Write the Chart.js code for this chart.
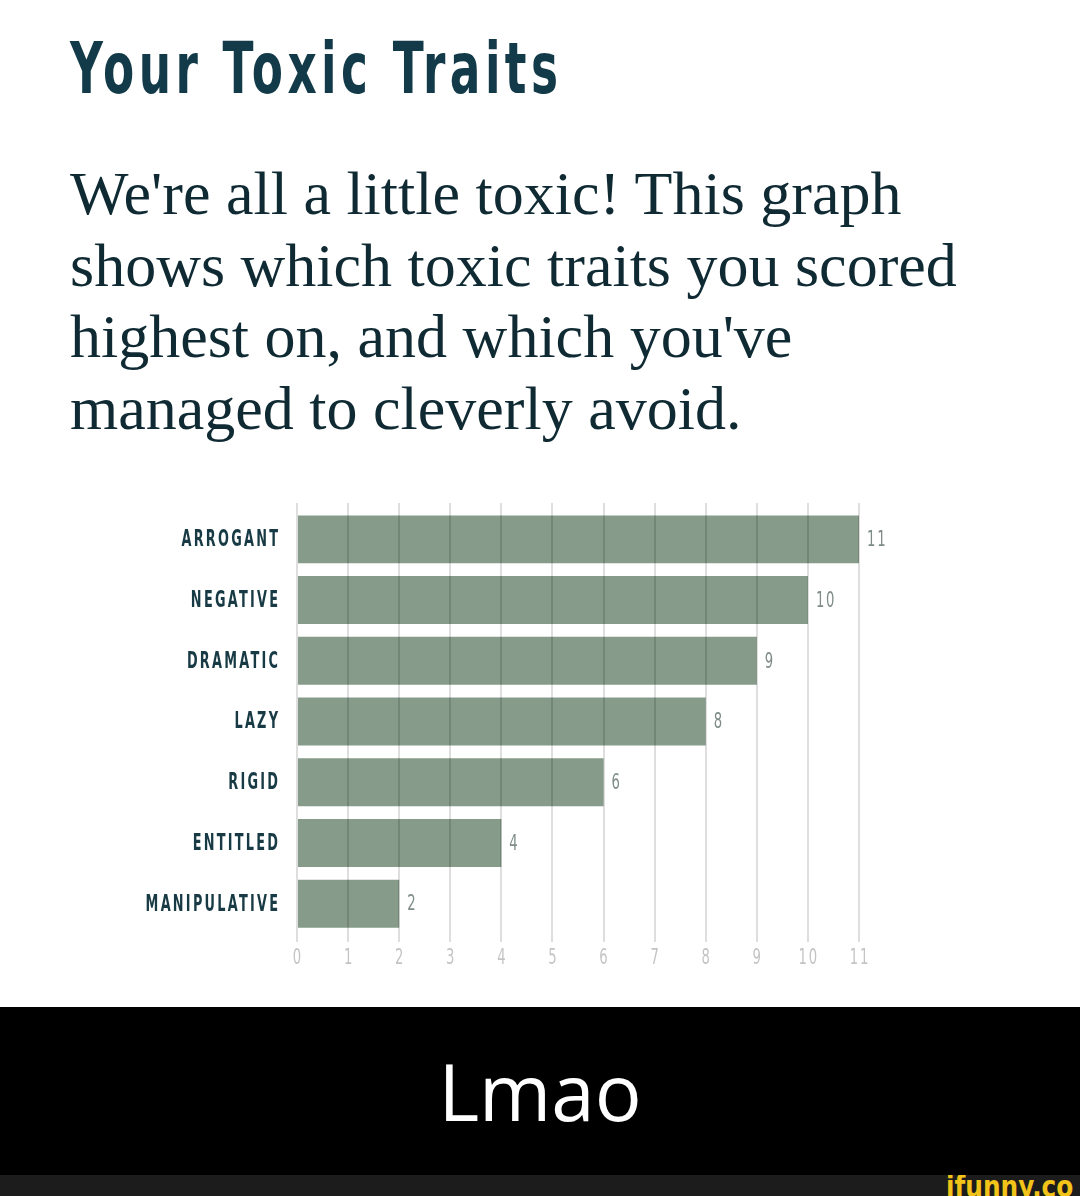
<!DOCTYPE html>
<html>
<head>
<meta charset="utf-8">
<script src="https://cdn.jsdelivr.net/npm/chart.js@4.4.1/dist/chart.umd.min.js"></script>
<style>
  html, body { margin: 0; padding: 0; background: #fff; }
  body { width: 1080px; height: 1196px; position: relative; overflow: hidden; }
  #title {
    position: absolute; left: 70px; top: 23px;
    font-family: "DejaVu Sans", sans-serif;
    font-weight: bold; font-size: 72px; line-height: 90px;
    letter-spacing: 7px; color: #123a48; white-space: nowrap;
    transform-origin: 0 0;
  }
  #sub {
    position: absolute; left: 70px; top: 158px;
    font-family: "Liberation Serif", "DejaVu Serif", serif;
    font-size: 62px; line-height: 71.5px; color: #0f2a33; white-space: nowrap;
  }
  #chartBox { position: absolute; left: 0; top: 490px; width: 1080px; height: 484px; }
  #band {
    position: absolute; left: 0; top: 1007px; width: 1080px; height: 168px; background: #000;
    color: #fff; font-family: "Open Sans", "Noto Sans", sans-serif; font-size: 78px;
    text-align: center; line-height: 168px;
  }
  #strip { position: absolute; left: 0; top: 1175px; width: 1080px; height: 21px; background: #1c1c1c; overflow: hidden; }
  #mark {
    position: absolute; left: 946px; top: -7px; color: #f2c318;
    font-family: "DejaVu Sans", sans-serif; font-weight: bold; font-size: 31px;
    transform: scaleX(0.8); transform-origin: 0 0; white-space: nowrap;
  }
</style>
</head>
<body>
<div id="title"><span id="titleText">Your Toxic Traits</span></div>
<div id="sub">We're all a little toxic! This graph<br>shows which toxic traits you scored<br>highest on, and which you've<br>managed to cleverly avoid.</div>
<div id="chartBox"><canvas id="traitChart" width="1080" height="484"></canvas></div>
<div id="band">Lmao</div>
<div id="strip"><span id="mark">ifunny.co</span></div>

<script>
const categories = ['ARROGANT', 'NEGATIVE', 'DRAMATIC', 'LAZY', 'RIGID', 'ENTITLED', 'MANIPULATIVE'];
const scores = [11, 10, 9, 8, 6, 4, 2];
const tickValues = [0, 1, 2, 3, 4, 5, 6, 7, 8, 9, 10, 11];

const barColor = '#869b89';
const gridColor = 'rgba(0,0,0,0.13)';

// squeeze the title into the narrow headline width
const t = document.getElementById('titleText');
const tw = t.getBoundingClientRect().width - 7;
document.getElementById('title').style.transform = 'scaleX(' + (488 / tw) + ')';

// condensed text: DejaVu squeezed horizontally
function narrowText(ctx, text, x, y, align, sx, spacing) {
    ctx.save();
    ctx.translate(x, y);
    ctx.scale(sx, 1);
    ctx.letterSpacing = spacing + 'px';
    let w = ctx.measureText(text).width - spacing;
    let dx = align === 'right' ? -w : align === 'center' ? -w / 2 : 0;
    ctx.textAlign = 'left';
    ctx.textBaseline = 'middle';
    ctx.fillText(text, dx, 0);
    ctx.restore();
}

const labelsPlugin = {
    id: 'labelsPlugin',
    afterDraw(chart) {
        const ctx = chart.ctx;
        const y = chart.scales.y;
        const x = chart.scales.x;
        const meta = chart.getDatasetMeta(0);

        ctx.save();
        ctx.font = 'bold 23px "DejaVu Sans"';
        ctx.fillStyle = '#173a45';
        categories.forEach((c, i) => {
            narrowText(ctx, c, y.right - 19, y.getPixelForValue(i) + 1, 'right', 0.56, 4);
        });

        ctx.font = '22px "DejaVu Sans"';
        ctx.fillStyle = '#7f8c86';
        meta.data.forEach((bar, i) => {
            narrowText(ctx, String(scores[i]), bar.x + 8, bar.y + 1, 'left', 0.6, 3);
        });

        ctx.fillStyle = '#c4c4c4';
        tickValues.forEach(v => {
            narrowText(ctx, String(v), x.getPixelForValue(v), chart.chartArea.bottom + 24, 'center', 0.6, 3);
        });
        ctx.restore();
    }
};

new Chart(document.getElementById('traitChart'), {
    type: 'bar',
    data: {
        labels: categories,
        datasets: [{
            data: scores,
            backgroundColor: barColor,
            borderWidth: 0,
            barPercentage: 0.79,
            categoryPercentage: 1
        }]
    },
    options: {
        indexAxis: 'y',
        responsive: false,
        animation: false,
        layout: { padding: { top: 13, right: 221, left: 0, bottom: 0 } },
        plugins: { legend: { display: false }, tooltip: { enabled: false } },
        scales: {
            x: {
                type: 'linear', position: 'bottom', min: 0, max: 11, z: 1,
                afterBuildTicks: s => { s.ticks = tickValues.map(v => ({ value: v })); },
                afterFit: s => { s.height = 40; s.paddingLeft = 0; s.paddingRight = 0; },
                grid: { z: 1, color: gridColor, lineWidth: 2, drawTicks: true, tickLength: 8, tickColor: gridColor },
                border: { display: false },
                ticks: { display: false }
            },
            x2: {
                type: 'linear', position: 'top', min: 0, max: 11, z: 1,
                afterBuildTicks: s => { s.ticks = tickValues.map(v => ({ value: v })); },
                afterFit: s => { s.height = 6; s.paddingLeft = 0; s.paddingRight = 0; },
                grid: { drawOnChartArea: false, drawTicks: true, tickLength: 6, color: gridColor, tickColor: gridColor, lineWidth: 2 },
                border: { display: false },
                ticks: { display: false }
            },
            y: {
                afterFit: s => { s.width = 297; s.paddingTop = 0; s.paddingBottom = 0; },
                grid: { display: false },
                border: { display: false },
                ticks: { display: false }
            }
        }
    },
    plugins: [labelsPlugin]
});
</script>
</body>
</html>
